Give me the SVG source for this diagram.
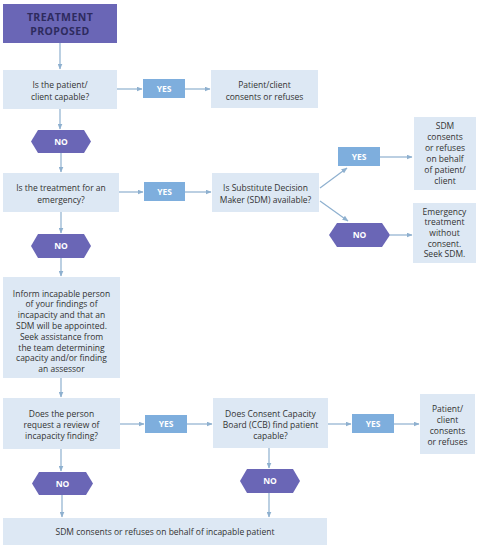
<svg xmlns="http://www.w3.org/2000/svg" width="480" height="551" viewBox="0 0 480 551">
<defs>
<style>
.box{fill:#dde8f4}
.yes{fill:#7eaedd}
.pur{fill:#6a66b6}
.t{font-family:"Open Sans","DejaVu Sans",sans-serif;font-size:8.5px;fill:#333333;text-anchor:middle}
.yt{font-family:"Open Sans","DejaVu Sans",sans-serif;font-size:8.5px;font-weight:bold;fill:#ffffff;text-anchor:middle}
.tp{font-family:"Open Sans","DejaVu Sans",sans-serif;font-size:10.5px;font-weight:bold;fill:#2e2b5e;text-anchor:middle;letter-spacing:0.4px}
.c{stroke:#8eb0cf;stroke-width:1.2;fill:none;marker-end:url(#ah)}
</style>
<marker id="ah" markerWidth="6" markerHeight="5" refX="5.5" refY="2.5" orient="auto" markerUnits="userSpaceOnUse">
<path d="M0,0 L6,2.5 L0,5 z" fill="#8eb0cf"/>
</marker>
</defs>
<rect width="480" height="551" fill="#ffffff"/>
<g id="connectors">
<line class="c" x1="60" y1="43" x2="60" y2="69"/>
<line class="c" x1="117" y1="89" x2="142" y2="89"/>
<line class="c" x1="185" y1="89" x2="210" y2="89"/>
<line class="c" x1="60" y1="109" x2="60" y2="129"/>
<line class="c" x1="61" y1="153" x2="61" y2="172"/>
<line class="c" x1="119" y1="192" x2="143" y2="192"/>
<line class="c" x1="185" y1="192" x2="211" y2="192"/>
<line class="c" x1="320" y1="188" x2="347" y2="168"/>
<line class="c" x1="320" y1="201" x2="348" y2="221"/>
<line class="c" x1="380" y1="157" x2="412" y2="157"/>
<line class="c" x1="390" y1="235" x2="412" y2="235"/>
<line class="c" x1="61" y1="212" x2="61" y2="233"/>
<line class="c" x1="61" y1="258" x2="61" y2="276"/>
<line class="c" x1="61" y1="378" x2="61" y2="397"/>
<line class="c" x1="120" y1="424" x2="144" y2="424"/>
<line class="c" x1="187" y1="424" x2="212" y2="424"/>
<line class="c" x1="328" y1="424" x2="351" y2="424"/>
<line class="c" x1="394" y1="424" x2="419" y2="424"/>
<line class="c" x1="61" y1="449" x2="61" y2="471"/>
<line class="c" x1="62" y1="495" x2="62" y2="517"/>
<line class="c" x1="269" y1="448" x2="269" y2="468"/>
<line class="c" x1="269" y1="493" x2="269" y2="517"/>
</g>
<g id="treatment-proposed">
<rect class="pur" x="3" y="4" width="114" height="39"/>
<text class="tp" x="60" y="21">TREATMENT</text>
<text class="tp" x="60" y="34.5">PROPOSED</text>
</g>
<g id="q-capable">
<rect class="box" x="3" y="70" width="114" height="39"/>
<text class="t" x="60" y="88">Is the patient/</text>
<text class="t" x="60" y="99.5">client capable?</text>
</g>
<g id="yes1">
<rect class="yes" x="143" y="79" width="42" height="19"/>
<text class="yt" x="164" y="91.5">YES</text>
</g>
<g id="pc-consents1">
<rect class="box" x="211" y="70" width="107" height="38"/>
<text class="t" x="264.5" y="88">Patient/client</text>
<text class="t" x="264.5" y="99.5">consents or refuses</text>
</g>
<g id="no1">
<polygon class="pur" points="31,141.5 38,130 84,130 91,141.5 84,153 38,153"/>
<text class="yt" x="61" y="144.5">NO</text>
</g>
<g id="q-emergency">
<rect class="box" x="3" y="173" width="116" height="39"/>
<text class="t" x="61" y="191">Is the treatment for an</text>
<text class="t" x="61" y="202.5">emergency?</text>
</g>
<g id="yes2">
<rect class="yes" x="144" y="182" width="41" height="19"/>
<text class="yt" x="164.5" y="194.5">YES</text>
</g>
<g id="q-sdm">
<rect class="box" x="212" y="173" width="107" height="39"/>
<text class="t" x="265.5" y="191">Is Substitute Decision</text>
<text class="t" x="265.5" y="202.5">Maker (SDM) available?</text>
</g>
<g id="yes3">
<rect class="yes" x="338" y="147" width="42" height="19"/>
<text class="yt" x="359" y="159.5">YES</text>
</g>
<g id="sdm-consents">
<rect class="box" x="414" y="117" width="62" height="73"/>
<text class="t" x="445" y="128.5">SDM</text>
<text class="t" x="445" y="139.5">consents</text>
<text class="t" x="445" y="150.5">or refuses</text>
<text class="t" x="445" y="161.5">on behalf</text>
<text class="t" x="445" y="172.5">of patient/</text>
<text class="t" x="445" y="183.5">client</text>
</g>
<g id="no2">
<polygon class="pur" points="329,235 337,223 382,223 390,235 382,247 337,247"/>
<text class="yt" x="359.5" y="238">NO</text>
</g>
<g id="emergency-treatment">
<rect class="box" x="413" y="203" width="63" height="60"/>
<text class="t" x="444.5" y="214.6">Emergency</text>
<text class="t" x="444.5" y="225.3">treatment</text>
<text class="t" x="444.5" y="236">without</text>
<text class="t" x="444.5" y="246.7">consent.</text>
<text class="t" x="444.5" y="257.4">Seek SDM.</text>
</g>
<g id="no3">
<polygon class="pur" points="31,246 38,234 84,234 91,246 84,258 38,258"/>
<text class="yt" x="61" y="249">NO</text>
</g>
<g id="inform">
<rect class="box" x="3" y="277" width="117" height="101"/>
<text class="t" x="61.5" y="296.5">Inform incapable person</text>
<text class="t" x="61.5" y="307.3">of your findings of</text>
<text class="t" x="61.5" y="318.1">incapacity and that an</text>
<text class="t" x="61.5" y="328.9">SDM will be appointed.</text>
<text class="t" x="61.5" y="339.7">Seek assistance from</text>
<text class="t" x="61.5" y="350.5">the team determining</text>
<text class="t" x="61.5" y="361.3">capacity and/or finding</text>
<text class="t" x="61.5" y="372.1">an assessor</text>
</g>
<g id="q-review">
<rect class="box" x="3" y="398" width="117" height="51"/>
<text class="t" x="61.5" y="416.5">Does the person</text>
<text class="t" x="61.5" y="427.5">request a review of</text>
<text class="t" x="61.5" y="438.5">incapacity finding?</text>
</g>
<g id="yes4">
<rect class="yes" x="145" y="415" width="42" height="18"/>
<text class="yt" x="166" y="427">YES</text>
</g>
<g id="q-ccb">
<rect class="box" x="213" y="398" width="115" height="50"/>
<text class="t" x="270.5" y="416.5">Does Consent Capacity</text>
<text class="t" x="270.5" y="427.5">Board (CCB) find patient</text>
<text class="t" x="270.5" y="438.5">capable?</text>
</g>
<g id="yes5">
<rect class="yes" x="352" y="414" width="42" height="19"/>
<text class="yt" x="373" y="426.5">YES</text>
</g>
<g id="pc-consents2">
<rect class="box" x="420" y="394" width="55" height="60"/>
<text class="t" x="447.5" y="412">Patient/</text>
<text class="t" x="447.5" y="423">client</text>
<text class="t" x="447.5" y="434">consents</text>
<text class="t" x="447.5" y="445">or refuses</text>
</g>
<g id="no4">
<polygon class="pur" points="32,483.5 39,472 86,472 93,483.5 86,495 39,495"/>
<text class="yt" x="62.5" y="486.5">NO</text>
</g>
<g id="no5">
<polygon class="pur" points="240,481 247,469 293,469 300,481 293,493 247,493"/>
<text class="yt" x="270" y="484">NO</text>
</g>
<g id="sdm-final">
<rect class="box" x="3" y="518" width="324" height="27"/>
<text class="t" x="165" y="535">SDM consents or refuses on behalf of incapable patient</text>
</g>
</svg>
